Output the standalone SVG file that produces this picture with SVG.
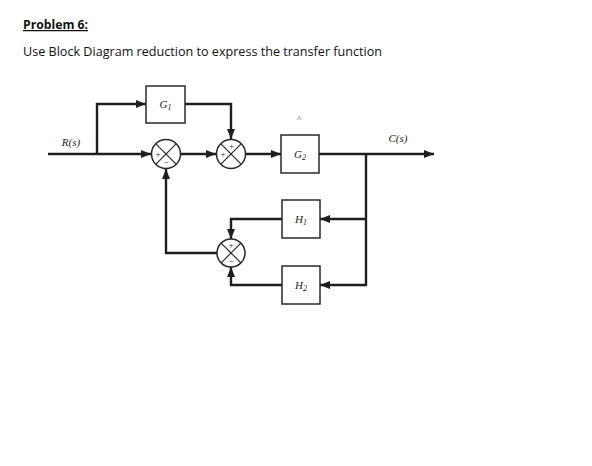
<svg xmlns="http://www.w3.org/2000/svg" width="592" height="466" viewBox="0 0 592 466">
<defs>
<marker id="arr" markerUnits="userSpaceOnUse" markerWidth="11" markerHeight="8" refX="10" refY="4" orient="auto">
<path d="M0,0 L10,4 L0,8 z" fill="#1e1e1e"/>
</marker>
</defs>
<style>
.bg{fill:#ffffff}
.box{fill:#ffffff;stroke:#2a2a2a;stroke-width:1.5}
.sum{fill:#ffffff;stroke:#2a2a2a;stroke-width:1.5}
.x{stroke:#2a2a2a;stroke-width:1.2}
.wire{fill:none;stroke:#1e1e1e;stroke-width:2.4}
.arrow{marker-end:url(#arr)}
.lbl{font-family:"Liberation Serif",serif;font-style:italic;font-size:11px;fill:#222;text-anchor:middle}
.sub{font-size:8px}
.sign{font-family:"Liberation Serif",serif;font-size:9px;fill:#222;text-anchor:middle}
.title{font-family:"Open Sans","Liberation Sans",sans-serif;fill:#111}
</style>
<rect class="bg" x="0" y="0" width="592" height="466"/>
<text class="title" x="23" y="29" font-size="12.5" font-weight="bold" text-decoration="underline" textLength="65" lengthAdjust="spacingAndGlyphs">Problem 6:</text>
<text class="title" x="23" y="56" font-size="13" textLength="359" lengthAdjust="spacingAndGlyphs">Use Block Diagram reduction to express the transfer function</text>

<g id="connectors">
<path class="wire arrow" d="M48,154 H151"/>
<path class="wire arrow" d="M97,154 V104 H146"/>
<path class="wire arrow" d="M185,104 H231 V139"/>
<path class="wire arrow" d="M180,154 H216"/>
<path class="wire arrow" d="M246,154 H281"/>
<path class="wire arrow" d="M319,154 H434"/>
<path class="wire arrow" d="M366,154 V285 H320"/>
<path class="wire arrow" d="M366,219 H320"/>
<path class="wire arrow" d="M282,219 H231 V239"/>
<path class="wire arrow" d="M282,285 H231 V267"/>
<path class="wire arrow" d="M217,253 H166 V169"/>
</g>

<g id="R">
<text class="lbl" x="71" y="146" font-size="10">R(s)</text>
</g>
<g id="C">
<text class="lbl" x="398" y="142" font-size="10">C(s)</text>
</g>
<g id="mark">
<text class="sign" x="299" y="122" font-size="7" fill="#777">^</text>
</g>

<g id="G1">
<rect class="box" x="146" y="86" width="39" height="37"/>
<text class="lbl" x="165.5" y="108">G<tspan class="sub" dy="2">1</tspan></text>
</g>
<g id="G2">
<rect class="box" x="281" y="135" width="38" height="38"/>
<text class="lbl" x="300" y="158">G<tspan class="sub" dy="2">2</tspan></text>
</g>
<g id="H1">
<rect class="box" x="282" y="200" width="38" height="38"/>
<text class="lbl" x="301" y="223">H<tspan class="sub" dy="2">1</tspan></text>
</g>
<g id="H2">
<rect class="box" x="282" y="266" width="38" height="38"/>
<text class="lbl" x="301" y="289">H<tspan class="sub" dy="2">2</tspan></text>
</g>

<g id="sum1">
<circle class="sum" cx="166" cy="154" r="14.5"/>
<line class="x" x1="155.7" y1="143.7" x2="176.3" y2="164.3"/>
<line class="x" x1="176.3" y1="143.7" x2="155.7" y2="164.3"/>
<text class="sign" x="158" y="157">+</text>
<text class="sign" x="166" y="165">−</text>
</g>
<g id="sum2">
<circle class="sum" cx="231" cy="154" r="14.5"/>
<line class="x" x1="220.7" y1="143.7" x2="241.3" y2="164.3"/>
<line class="x" x1="241.3" y1="143.7" x2="220.7" y2="164.3"/>
<text class="sign" x="231.5" y="149">+</text>
<text class="sign" x="223" y="157">+</text>
</g>
<g id="sum3">
<circle class="sum" cx="231" cy="253" r="14"/>
<line class="x" x1="221.1" y1="243.1" x2="240.9" y2="262.9"/>
<line class="x" x1="240.9" y1="243.1" x2="221.1" y2="262.9"/>
<text class="sign" x="231" y="248">+</text>
<text class="sign" x="231" y="264">−</text>
</g>
</svg>
